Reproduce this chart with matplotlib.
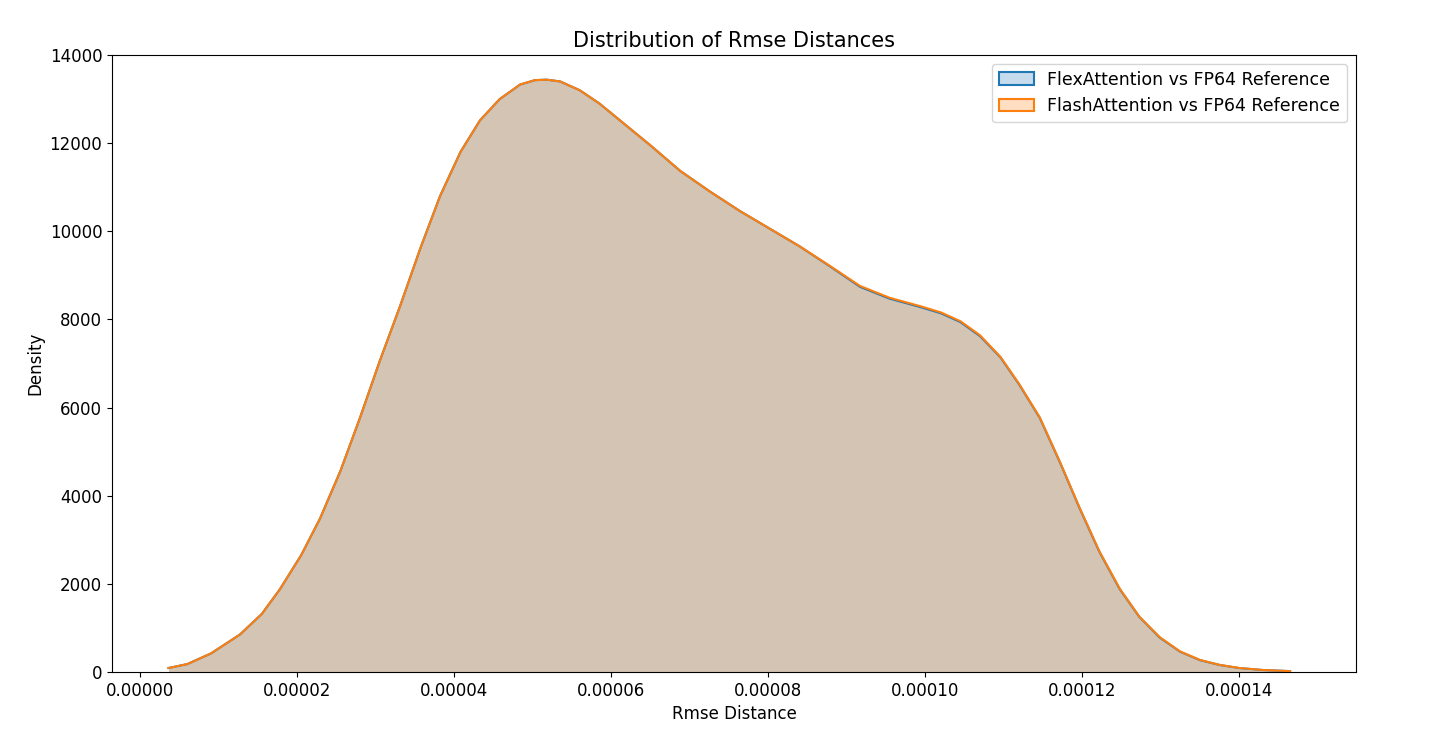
import matplotlib
matplotlib.use("Agg")
import matplotlib.pyplot as plt
import numpy as np

# density curve (both series are practically identical)
rmse = [0.0000036, 0.0000060, 0.0000090, 0.0000127, 0.0000155, 0.0000178, 0.0000205,
        0.0000229, 0.0000255, 0.0000280, 0.0000305, 0.0000331, 0.0000357, 0.0000382,
        0.0000408, 0.0000433, 0.0000458, 0.0000484, 0.0000503, 0.0000518, 0.0000535,
        0.0000560, 0.0000585, 0.0000611, 0.0000650, 0.0000688, 0.0000726, 0.0000764,
        0.0000802, 0.0000840, 0.0000880, 0.0000917, 0.0000955, 0.0000994, 0.0001020,
        0.0001045, 0.0001070, 0.0001096, 0.0001120, 0.0001146, 0.0001172, 0.0001197,
        0.0001222, 0.0001248, 0.0001273, 0.0001299, 0.0001325, 0.0001350, 0.0001375,
        0.0001400, 0.0001430, 0.0001465]
flex_density = [90, 180, 420, 850, 1320, 1880, 2650, 3480, 4560, 5770, 7050, 8300, 9620,
                10800, 11800, 12520, 13000, 13330, 13430, 13440, 13400, 13200, 12900, 12520,
                11950, 11370, 10900, 10460, 10060, 9660, 9190, 8740, 8470, 8280, 8140, 7940,
                7620, 7140, 6520, 5770, 4750, 3710, 2730, 1880, 1250, 780, 460, 270, 160,
                90, 45, 20]
flash_density = [90, 180, 420, 850, 1320, 1880, 2650, 3480, 4560, 5770, 7050, 8300, 9620,
                 10800, 11800, 12520, 13000, 13330, 13430, 13440, 13400, 13200, 12900, 12520,
                 11950, 11370, 10900, 10460, 10060, 9660, 9200, 8760, 8490, 8300, 8160, 7960,
                 7640, 7150, 6530, 5780, 4760, 3720, 2740, 1890, 1255, 790, 465, 275, 162,
                 92, 46, 20]

fig = plt.figure(figsize=(14.4, 7.39), dpi=100)
ax = fig.add_axes([112/1440, 1-672/739, (1356-112)/1440, (672-55)/739])

for y, c, lab in [(flex_density, "C0", "FlexAttention vs FP64 Reference"),
                  (flash_density, "C1", "FlashAttention vs FP64 Reference")]:
    ax.fill_between(rmse, y, color=c, alpha=0.25, lw=0)
    ax.plot(rmse, y, color=c, lw=1.5)
    ax.fill([], [], facecolor=matplotlib.colors.to_rgba(c, 0.25), edgecolor=c, lw=1.5, label=lab)

ax.set_xlim(-0.0000036, 0.0001549)
ax.set_ylim(0, 14000)
ax.set_xticks(np.arange(0, 0.000141, 0.00002))
ax.set_xticklabels(["%.5f" % v for v in np.arange(0, 0.000141, 0.00002)])
ax.tick_params(labelsize=12)
ax.set_xlabel("Rmse Distance", fontsize=12)
ax.set_ylabel("Density", fontsize=12)
ax.set_title("Distribution of Rmse Distances", fontsize=15)
ax.legend(loc="upper right", fontsize=12.5)
fig.savefig("out.png", dpi=100)
